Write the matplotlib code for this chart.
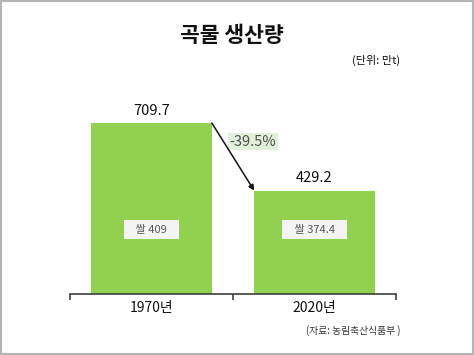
import matplotlib
matplotlib.use("Agg")
import matplotlib.pyplot as plt
from matplotlib.patches import Rectangle

plt.rcParams['font.family'] = ['Noto Sans CJK KR', 'DejaVu Sans']

categories = ['1970년', '2020년']
totals = [709.7, 429.2]
rice = [409, 374.4]
change_label = '-39.5%'
title = '곡물 생산량'
unit = '(단위: 만t)'
source = '(자료: 농림축산식품부 )'

W, H = 474, 355
fig = plt.figure(figsize=(W / 100, H / 100), dpi=100)
fig.patches.append(Rectangle((0, 0), 1, 1, transform=fig.transFigure,
                             fill=False, edgecolor='#b4b4b4', linewidth=3, zorder=10))

ax = fig.add_axes([70 / W, 1 - 294 / H, (396 - 70) / W, (294 - 100) / H])
x = list(range(len(categories)))
bars = ax.bar(x, totals, width=0.74, color='#92d050', zorder=2)
ax.set_xlim(-0.5, len(categories) - 0.5)
ax.set_ylim(0, 805)

for s in ['top', 'right', 'left']:
    ax.spines[s].set_visible(False)
ax.spines['bottom'].set_color('#404040')
ax.spines['bottom'].set_linewidth(1.2)
ax.set_yticks([])
ax.set_xticks(x)
ax.set_xticklabels(categories, fontsize=10, color='#111111')
ax.tick_params(axis='x', which='major', length=0, pad=5)
ax.set_xticks([i - 0.5 for i in range(len(categories) + 1)], minor=True)
ax.tick_params(axis='x', which='minor', length=4, width=1.2, color='#404040', direction='out')

for i, (t, r) in enumerate(zip(totals, rice)):
    ax.text(i, t + 22, f'{t:g}', ha='center', va='bottom', fontsize=10.5, color='#111111')
    ax.text(i, 266, f'   쌀 {r:g}   ', ha='center', va='center', fontsize=8, color='#595959',
            bbox=dict(boxstyle='square,pad=0.4', facecolor='#f4f4f4', edgecolor='none'),
            zorder=3)

# arrow from top-right corner of bar 1 to top-left corner of bar 2
b0, b1 = bars[0], bars[1]
ax.annotate('', xy=(b1.get_x(), totals[1]), xytext=(b0.get_x() + b0.get_width(), totals[0]),
            arrowprops=dict(arrowstyle='-|>', color='#111111', lw=1.1, mutation_scale=8,
                            shrinkA=0, shrinkB=0), zorder=4)
ax.text(0.623, 632, change_label, ha='center', va='center', fontsize=10.5, color='#505050',
        bbox=dict(boxstyle='square,pad=0.12', facecolor='#e2efda', edgecolor='none'), zorder=3)

fig.text(232 / W, 1 - 35 / H, title, ha='center', va='center', fontsize=15.5, fontweight='bold',
         color='#111111')
fig.text(400 / W, 1 - 60 / H, unit, ha='right', va='center', fontsize=8, color='#111111')
fig.text(400 / W, 1 - 331 / H, source, ha='right', va='center', fontsize=7, color='#333333')

fig.savefig('out.png', dpi=100)
